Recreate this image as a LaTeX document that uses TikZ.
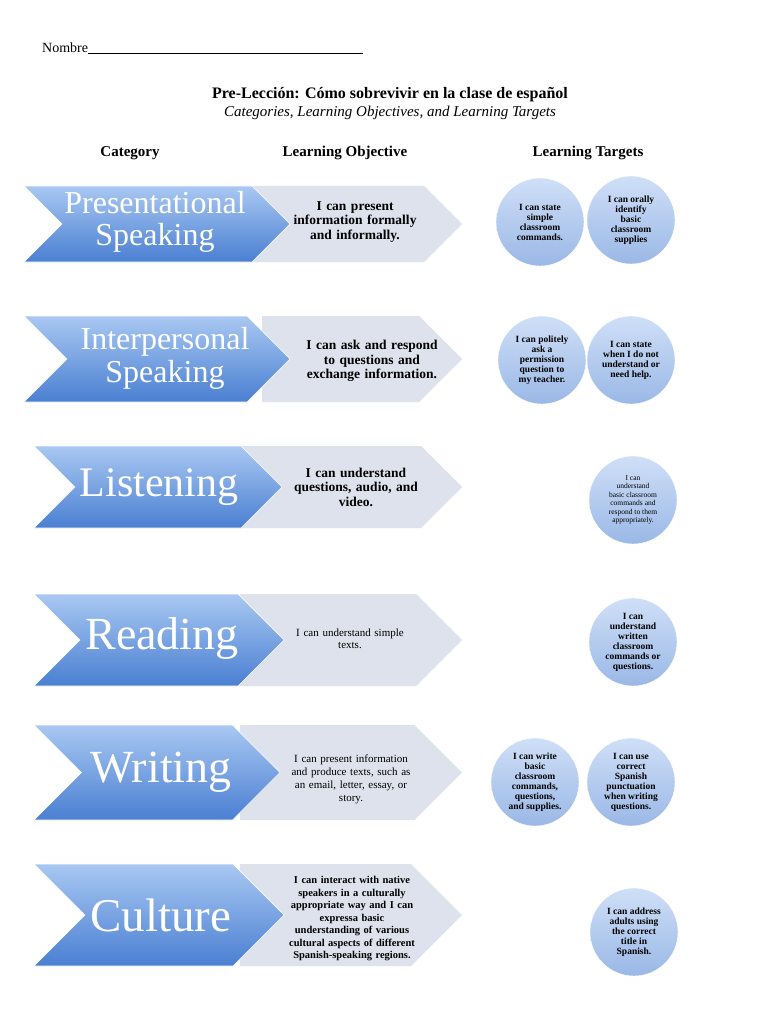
\documentclass[tikz,border=0pt]{standalone}
\usepackage{fontspec}
\setmainfont{Liberation Serif}
\definecolor{bltop}{HTML}{A9C8F2}
\definecolor{blbot}{HTML}{4A7FD2}
\definecolor{grayb}{HTML}{DEE2EC}
\definecolor{ctop}{HTML}{CFDFF7}
\definecolor{cbot}{HTML}{9AB8E6}
\begin{document}
\begin{tikzpicture}[x=1pt,y=-1pt,
 blueband/.style={top color=bltop, bottom color=blbot, draw=white, line width=0.6pt},
 cat/.style={text=white, align=center},
 obj/.style={align=center, font=\bfseries\fontsize{13.5}{14.5}\selectfont, text width=170pt},
 tcirc/.style={circle, minimum size=88pt, inner sep=0pt, top color=ctop, bottom color=cbot, draw=white, align=center, font=\bfseries\fontsize{9.5}{10}\selectfont},
 head/.style={font=\bfseries\fontsize{15}{16}\selectfont}]
\useasboundingbox (0,0) rectangle (768,1024);
\node[anchor=west, font=\fontsize{14}{15}\selectfont, inner xsep=0pt] (nom) at (42,48) {Nombre};
\coordinate (ln) at (363,0);
\draw[line width=1pt] ([yshift=2.5pt]nom.south east) -- ([yshift=2.5pt]ln |- nom.south);
\node[font=\bfseries\fontsize{16}{17}\selectfont] (t1) at (390,95) {Pre-Lección: Cómo sobrevivir en la clase de español};
\node[font=\itshape\fontsize{15}{16}\selectfont] (t2) at (390,113) {Categories, Learning Objectives, and Learning Targets};
\node[head] (h1) at (130,153) {Category};
\node[head] (h2) at (345,153) {Learning Objective};
\node[head] (h3) at (588,153) {Learning Targets};
\foreach \t/\b/\bl/\bt/\gs [count=\i] in {186/262/24/290/240, 316/402/24/290/262, 446/528/34/282/240, 594/686/34/284/240, 725/820/34/280/240, 864/966/34/284/240}{
  \pgfmathsetmacro{\m}{(\t+\b)/2}
  \pgfmathsetmacro{\h}{(\b-\t)/2}
  \fill[grayb] (\gs,\t) -- (462-\h,\t) -- (462,\m) -- (462-\h,\b) -- (\gs,\b) -- cycle;
  \draw[blueband] (\bl,\t) -- (\bt-\h,\t) -- (\bt,\m) -- (\bt-\h,\b) -- (\bl,\b) -- (\bl+\h,\m) -- cycle;
}
\node[cat, font=\fontsize{32}{32}\selectfont] (c1) at (155,222) {Presentational\\Speaking};
\node[cat, font=\fontsize{32}{33}\selectfont] (c2) at (165,358) {Interpersonal\\Speaking};
\node[cat, font=\fontsize{42}{42}\selectfont] (c3) at (159,487) {Listening};
\node[cat, font=\fontsize{46}{46}\selectfont] (c4) at (162,638) {Reading};
\node[cat, font=\fontsize{46}{46}\selectfont] (c5) at (161,772) {Writing};
\node[cat, font=\fontsize{47}{47}\selectfont] (c6) at (161,915) {Culture};
\node[obj] (o1) at (355,222) {I can present\\information formally\\and informally.};
\node[obj] (o2) at (372,361) {I can ask and respond\\to questions and\\exchange information.};
\node[obj] (o3) at (356,487) {I can understand\\questions, audio, and\\video.};
\node[obj, font=\fontsize{11}{12}\selectfont] (o4) at (350,639) {I can understand simple\\texts.};
\node[obj, font=\fontsize{11}{13}\selectfont] (o5) at (351,779) {I can present information\\and produce texts, such as\\an email, letter, essay, or\\story.};
\node[obj, font=\bfseries\fontsize{10.5}{12.5}\selectfont] (o6) at (352,919) {I can interact with native\\speakers in a culturally\\appropriate way and I can\\expressa basic\\understanding of various\\cultural aspects of different\\Spanish-speaking regions.};
\node[tcirc] (a1) at (540,222) {I can state\\simple\\classroom\\commands.};
\node[tcirc] (a2) at (631,220) {I can orally\\identify\\basic\\classroom\\supplies};
\node[tcirc] (b1) at (542,360) {I can politely\\ask a\\permission\\question to\\my teacher.};
\node[tcirc] (b2) at (631,360) {I can state\\when I do not\\understand or\\need help.};
\node[tcirc, font=\fontsize{7.5}{8.5}\selectfont] (d1) at (633,500) {I can\\understand\\basic classroom\\commands and\\respond to them\\appropriately.};
\node[tcirc] (e1) at (633,642) {I can\\understand\\written\\classroom\\commands or\\questions.};
\node[tcirc] (f1) at (535,782) {I can write\\basic\\classroom\\commands,\\questions,\\and supplies.};
\node[tcirc] (f2) at (631,782) {I can use\\correct\\Spanish\\punctuation\\when writing\\questions.};
\node[tcirc] (g1) at (634,932) {I can address\\adults using\\the correct\\title in\\Spanish.};
\end{tikzpicture}
\end{document}
